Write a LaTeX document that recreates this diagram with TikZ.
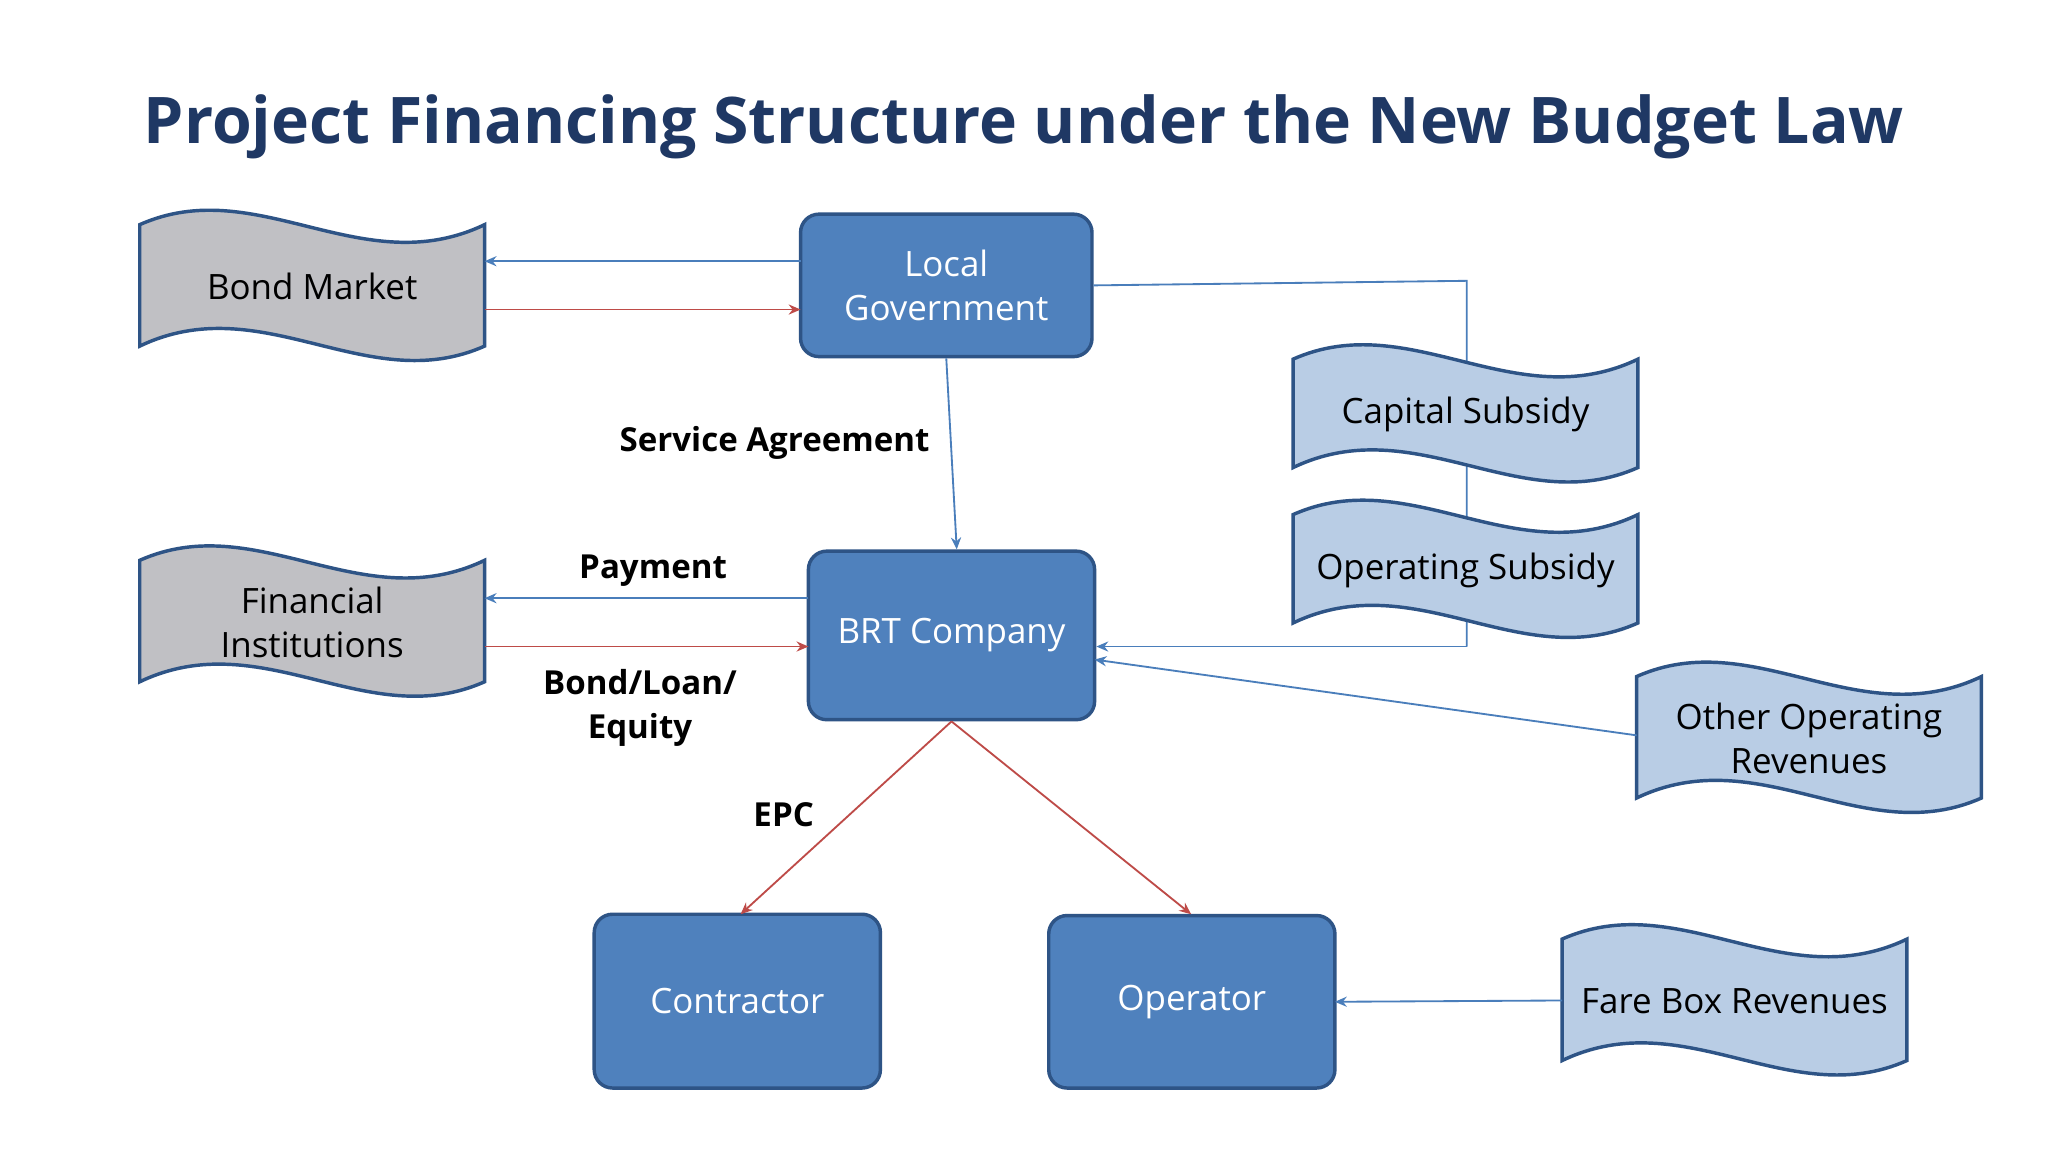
\documentclass[tikz,border=0pt]{standalone}
\usepackage{fontspec}
\setmainfont{Open Sans}
\usetikzlibrary{arrows.meta}
\definecolor{boxfill}{HTML}{4F81BD}
\definecolor{boxline}{HTML}{2E5486}
\definecolor{flaggray}{HTML}{C0C0C4}
\definecolor{flagblue}{HTML}{B9CDE5}
\definecolor{titleblue}{HTML}{1F3864}
\definecolor{bluearr}{HTML}{4A7EBB}
\definecolor{redarr}{HTML}{BE4B48}
\tikzset{
 box/.style={draw=boxline,line width=0.75pt,fill=boxfill,rounded corners=4pt,text=white,font=\fontsize{7.6}{9.6}\selectfont,align=center,inner sep=0pt},
 flagtext/.style={font=\fontsize{7.6}{9.6}\selectfont,align=center,text=black},
 lbl/.style={font=\bfseries\fontsize{7.2}{9.6}\selectfont,align=center},
 barr/.style={draw=bluearr,line width=0.4pt,-{Stealth[length=2.6pt,width=2.2pt]}},
 rarr/.style={draw=redarr,line width=0.4pt,-{Stealth[length=2.6pt,width=2.2pt]}},
}
% wave flag: #1 name, #2 x0, #3 yt (top of left edge), #4 h, #5 fill, #6 text
\newcommand{\flagshape}[6]{%
 \path[draw=boxline,line width=0.75pt,fill=#5]
  (#2,#3) .. controls (#2+90,#3-40) and (#2+170,#3+45) .. (#2+264,#3)
  -- (#2+264,#3+#4)
  .. controls (#2+174,#3+#4+40) and (#2+94,#3+#4-45) .. (#2,#3+#4) -- cycle;
 \node[flagtext,minimum width=2.64cm,minimum height=#4*0.01cm] (#1) at (#2+132,#3+#4/2+1) {#6};
}
\begin{document}
\begin{tikzpicture}[x=0.01cm,y=-0.01cm]
\useasboundingbox (0,0) rectangle (1568,882);
\fill[white] (0,0) rectangle (1568,882);
\node[text=titleblue,font=\bfseries\fontsize{14}{16}\selectfont] (title) at (784,97) {Project Financing Structure under the New Budget Law};
% boxes
\node[box,minimum width=2.23cm,minimum height=1.09cm] (lg) at (724.5,218.5) {Local\\Government};
\node[box,minimum width=2.19cm,minimum height=1.29cm] (brt) at (728.5,486.5) {BRT Company};
\node[box,minimum width=2.19cm,minimum height=1.33cm] (con) at (564.5,766.5) {Contractor};
\node[box,minimum width=2.19cm,minimum height=1.32cm] (op) at (912.5,767) {Operator};
% subsidy line (behind flags)
\coordinate (corner1) at (1123,215);
\coordinate (corner2) at (1123,495);
\draw[draw=bluearr,line width=0.4pt] ([yshift=0pt]lg.east) -- (corner1) -- (corner2);
\draw[barr] (corner2) -- (corner2 -| brt.east);
% flags
\flagshape{bm}{107}{172}{93}{flaggray}{Bond Market}
\flagshape{fi}{107}{429}{93}{flaggray}{Financial\\Institutions}
\flagshape{cs}{990}{275}{83}{flagblue}{Capital Subsidy}
\flagshape{os}{990}{394}{83}{flagblue}{Operating Subsidy}
\flagshape{oor}{1253}{518}{93}{flagblue}{Other Operating\\Revenues}
\flagshape{fb}{1196}{719}{93}{flagblue}{Fare Box Revenues}
% connectors
\coordinate (a1) at (613,200); \coordinate (a2) at (371,200);
\coordinate (a3) at (371,237); \coordinate (a4) at (613,237);
\draw[barr] (a1) -- (a2);
\draw[rarr] (a3) -- (a4);
\coordinate (b1) at (619,458); \coordinate (b2) at (371,458);
\coordinate (b3) at (371,495); \coordinate (b4) at (619,495);
\draw[barr] (b1) -- (b2);
\draw[rarr] (b3) -- (b4);
\draw[barr] (lg.south) -- ([xshift=0.04cm]brt.north);
\coordinate (o1) at (1253,563); \coordinate (o2) at (838,505);
\draw[barr] (o1) -- (o2);
\coordinate (c1) at (567,700); \coordinate (c2) at (912,700);
\draw[rarr] (brt.south) -- (c1);
\draw[rarr] (brt.south) -- (c2);
\coordinate (f1) at (1196,766); \coordinate (f2) at (1022,767);
\draw[barr] (f1) -- (f2);
% labels
\node[lbl] (sa) at (593,339) {Service Agreement};
\node[lbl] (pay) at (500,437) {Payment};
\node[lbl] (ble) at (490,542) {Bond/Loan/\\Equity};
\node[lbl] (epc) at (600,624) {EPC};
\end{tikzpicture}
\end{document}
